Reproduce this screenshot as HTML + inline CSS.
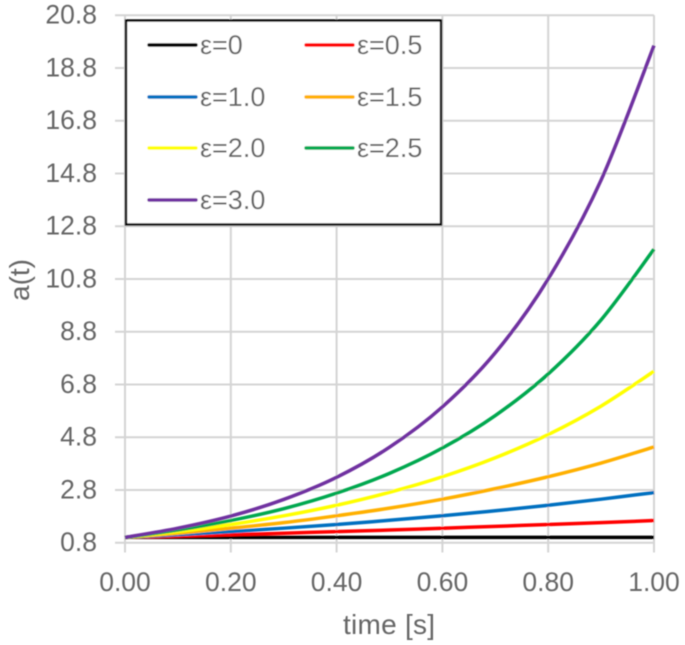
<!DOCTYPE html>
<html lang="en">
<head>
<meta charset="utf-8">
<title>a(t) versus time</title>
<style>
  html, body { margin: 0; padding: 0; background: #fff; width: 685px; height: 645px; overflow: hidden; }
  svg { display: block; font-family: "Liberation Sans", "DejaVu Sans", sans-serif; }
  text { fill: #666; font-size: 26.5px; }
  .title { font-size: 28px; }
  .legend-text { font-size: 27px; }
</style>
</head>
<body>
<svg id="chart" xmlns="http://www.w3.org/2000/svg" width="685" height="645" viewBox="0 0 685 645">
  <defs><filter id="soft" x="-5%" y="-5%" width="110%" height="110%"><feGaussianBlur stdDeviation="0.45"/></filter></defs>
  <g id="root" filter="url(#soft)">
    <g id="grid"></g>
    <g id="ticks"></g>
    <g id="series"></g>
    <text class="title" x="389" y="634" text-anchor="middle" textLength="92" lengthAdjust="spacing">time [s]</text>
    <text class="title" transform="translate(29,280) rotate(-90)" text-anchor="middle">a(t)</text>
    <g id="legend">
      <rect x="126" y="20.5" width="315" height="204" fill="#fff" stroke="#000" stroke-width="2.4"/>
    </g>
  </g>
</svg>
<script>
const timeValues = [0, 0.1, 0.2, 0.3, 0.4, 0.5, 0.6, 0.7, 0.8, 0.9, 1.0];
const seriesLabels = ["ε=0", "ε=0.5", "ε=1.0", "ε=1.5", "ε=2.0", "ε=2.5", "ε=3.0"];
const seriesColors = ["#000000", "#ff0000", "#0070c0", "#ffb000", "#ffff00", "#00a84f", "#7030a0"];
const eps0 = [1, 1, 1, 1, 1, 1, 1, 1, 1, 1, 1];
const eps05 = [1, 1.05, 1.1, 1.16, 1.22, 1.28, 1.35, 1.42, 1.49, 1.56, 1.64];
const eps10 = [1, 1.1, 1.22, 1.35, 1.49, 1.65, 1.82, 2.01, 2.22, 2.45, 2.7];
const eps15 = [1, 1.16, 1.35, 1.56, 1.82, 2.11, 2.45, 2.85, 3.3, 3.82, 4.43];
const eps20 = [1, 1.22, 1.49, 1.82, 2.22, 2.71, 3.3, 4.02, 4.9, 5.98, 7.3];
const eps25 = [1, 1.28, 1.64, 2.09, 2.68, 3.43, 4.39, 5.62, 7.2, 9.25, 11.93];
const eps30 = [1, 1.35, 1.81, 2.44, 3.28, 4.42, 5.95, 8.0, 10.8, 14.55, 19.65];
const xTickLabels = ["0.00", "0.20", "0.40", "0.60", "0.80", "1.00"];
const yTickLabels = ["0.8", "2.8", "4.8", "6.8", "8.8", "10.8", "12.8", "14.8", "16.8", "18.8", "20.8"];

const allSeries = [eps0, eps05, eps10, eps15, eps20, eps25, eps30];
const NS = "http://www.w3.org/2000/svg";
const plotLeft = 125, plotRight = 654, plotBottom = 542.7, plotTop = 15.2;
const xMin = 0, xMax = 1, yMin = 0.8, yMax = 20.8;
function xScale(v) { return plotLeft + (v - xMin) / (xMax - xMin) * (plotRight - plotLeft); }
function yScale(v) { return plotBottom - (v - yMin) / (yMax - yMin) * (plotBottom - plotTop); }
function make(tag, attrs, parent) {
  const el = document.createElementNS(NS, tag);
  for (const k in attrs) el.setAttribute(k, attrs[k]);
  parent.appendChild(el);
  return el;
}
function smoothPath(xs, ys) {
  const pts = xs.map((x, i) => [xScale(x), yScale(ys[i])]);
  let d = "M" + pts[0][0].toFixed(2) + " " + pts[0][1].toFixed(2);
  for (let i = 0; i < pts.length - 1; i++) {
    const p0 = pts[Math.max(i - 1, 0)], p1 = pts[i], p2 = pts[i + 1], p3 = pts[Math.min(i + 2, pts.length - 1)];
    const c1x = p1[0] + (p2[0] - p0[0]) / 6, c1y = p1[1] + (p2[1] - p0[1]) / 6;
    const c2x = p2[0] - (p3[0] - p1[0]) / 6, c2y = p2[1] - (p3[1] - p1[1]) / 6;
    d += "C" + c1x.toFixed(2) + " " + c1y.toFixed(2) + " " + c2x.toFixed(2) + " " + c2y.toFixed(2) + " " + p2[0].toFixed(2) + " " + p2[1].toFixed(2);
  }
  return d;
}

const gridG = document.getElementById("grid");
const ticksG = document.getElementById("ticks");
yTickLabels.forEach((label) => {
  const y = yScale(parseFloat(label));
  const line = make("line", { x1: 115, x2: plotRight, y1: y, y2: y, stroke: "#d4d4d4", "stroke-width": 2 }, gridG);
  
  
  const t = make("text", { x: 97, y: y + 8.5, "text-anchor": "end" }, ticksG);
  t.textContent = label;
  
  
});
xTickLabels.forEach((label) => {
  const x = xScale(parseFloat(label));
  const line = make("line", { x1: x, x2: x, y1: plotTop, y2: 552.5, stroke: "#d4d4d4", "stroke-width": 2 }, gridG);
  
  
  const t = make("text", { x: x, y: 591, "text-anchor": "middle" }, ticksG);
  t.textContent = label;
  
  
});

const seriesG = document.getElementById("series");
allSeries.forEach((vals, i) => {
  const p = make("path", { d: smoothPath(timeValues, vals), fill: "none", stroke: seriesColors[i], "stroke-width": 3.5, "stroke-linecap": "butt" }, seriesG);
  
  
});

const legendG = document.getElementById("legend");
const legendCols = [149, 306];
const legendRows = [45, 97, 148, 200];
seriesLabels.forEach((label, i) => {
  const cx = legendCols[i % 2];
  const cy = legendRows[Math.floor(i / 2)];
  const l = make("line", { x1: cx, x2: cx + 47, y1: cy, y2: cy, stroke: seriesColors[i], "stroke-width": 3.4, "stroke-linecap": "round" }, legendG);
  
  
  const t = make("text", { class: "legend-text", x: cx + 51, y: cy + 9 }, legendG);
  t.textContent = label;
  
  
});
</script>
</body>
</html>
